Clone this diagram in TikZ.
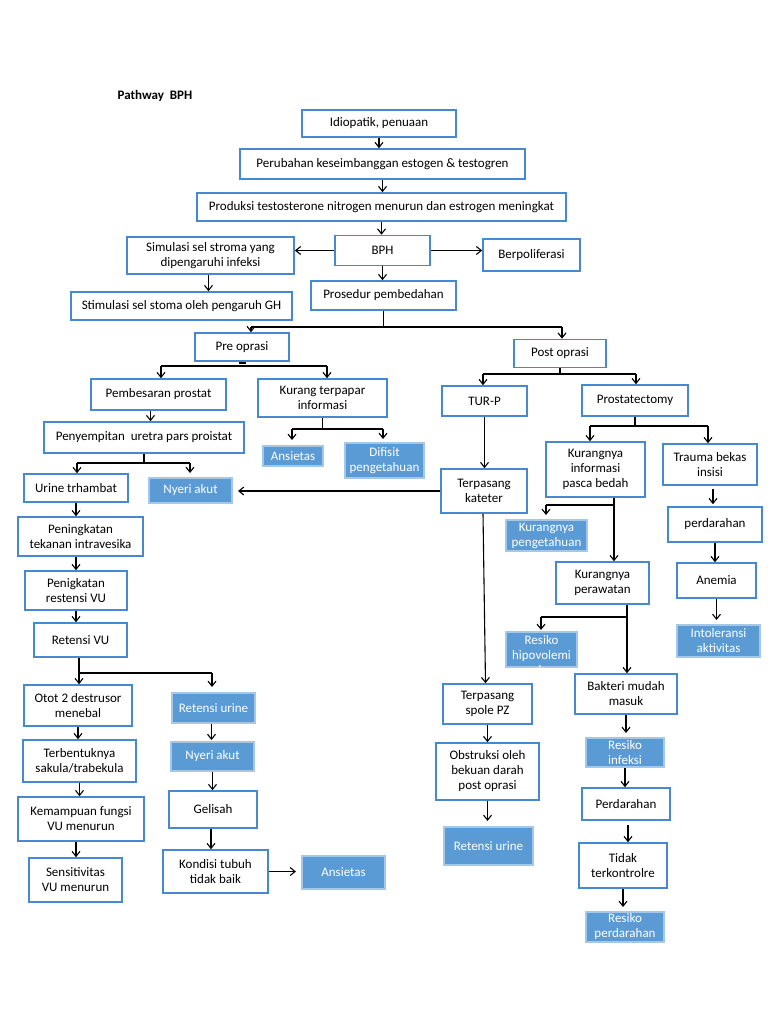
\documentclass[tikz,border=0pt]{standalone}
\usepackage{fontspec}
\setmainfont{Carlito}
\usetikzlibrary{arrows.meta}
\definecolor{boxblue}{RGB}{70,136,210}
\definecolor{dxblue}{RGB}{91,155,213}

\begin{document}
\begin{tikzpicture}[x=1pt,y=-1pt,
   >={Straight Barb[length=5pt,width=8pt]},
   every node/.style={font=\fontsize{13}{15}\selectfont},
   box/.style={draw=boxblue,line width=1.6pt,fill=white,align=center,inner sep=1pt},
   dx/.style={fill=dxblue,draw=dxblue!55,line width=2pt,text=white,align=center,inner sep=1pt},
   flow/.style={->,line width=1.1pt},
   link/.style={line width=1.1pt}]
   \useasboundingbox[fill=white] (0,0) rectangle (768,1024);
   % top chain
   \node (title) at (155,96) {\bfseries Pathway\ \ BPH};
   \node[box,minimum width=154,minimum height=27] (idio) at (379,123.5) {Idiopatik, penuaan};
   \node[box,minimum width=285,minimum height=30] (perub) at (382.5,164) {Perubahan keseimbanggan estogen \& testogren};
   \node[box,minimum width=369,minimum height=28] (prod) at (381.5,207) {Produksi testosterone nitrogen menurun dan estrogen meningkat};
   \node[box,minimum width=95,minimum height=30] (bph) at (382.5,250.5) {BPH};
   \node[box,minimum width=167,minimum height=37] (simul) at (210.5,255.5) {Simulasi sel stroma yang\\dipengaruhi infeksi};
   \node[box,minimum width=97,minimum height=32] (berp) at (531.5,255) {Berpoliferasi};
   \node[box,minimum width=221,minimum height=28] (stim) at (181.5,306) {Stimulasi sel stoma oleh pengaruh GH};
   \node[box,minimum width=145,minimum height=29] (pros) at (383.5,295.5) {Prosedur pembedahan};
   \node[box,minimum width=94,minimum height=28] (pre) at (242,347) {Pre oprasi};
   \node[box,minimum width=92,minimum height=28] (post) at (560,353.5) {Post oprasi};
   % pre oprasi side
   \node[box,minimum width=135,minimum height=31] (pemb) at (158.5,394.5) {Pembesaran prostat};
   \node[box,minimum width=129,minimum height=38] (kurang) at (322.5,398) {Kurang terpapar\\informasi};
   \node[box,minimum width=200,minimum height=31] (peny) at (144,437.5) {Penyempitan\ \ uretra pars proistat};
   \node[dx,minimum width=60,minimum height=20] (ansi1) at (293,456) {Ansietas};
   \node[dx,minimum width=79,minimum height=35] (difi) at (384.5,460.5) {Difisit\\pengetahuan};
   \node[box,minimum width=104,minimum height=28] (urine) at (76,488) {Urine trhambat};
   \node[dx,minimum width=83,minimum height=25] (nyeri1) at (190.5,490.5) {Nyeri akut};
   \node[box,minimum width=125,minimum height=39] (penin) at (80.5,536.5) {Peningkatan\\tekanan intravesika};
   \node[box,minimum width=102,minimum height=39] (penig) at (76,590.5) {Penigkatan\\restensi VU};
   \node[box,minimum width=93,minimum height=34] (retvu) at (80.5,640) {Retensi VU};
   \node[box,minimum width=108,minimum height=41] (otot) at (78,705.5) {Otot 2 destrusor\\menebal};
   \node[box,minimum width=113,minimum height=42] (terb) at (79.5,761) {Terbentuknya\\sakula/trabekula};
   \node[box,minimum width=126,minimum height=44] (kemam) at (81,819) {Kemampuan fungsi\\VU menurun};
   \node[box,minimum width=93,minimum height=44] (sens) at (75.5,880) {Sensitivitas\\VU menurun};
   \node[dx,minimum width=83,minimum height=30] (retur1) at (213.5,708) {Retensi urine};
   \node[dx,minimum width=83,minimum height=29] (nyeri2) at (212.5,756.5) {Nyeri akut};
   \node[box,minimum width=88,minimum height=37] (gelis) at (213,809.5) {Gelisah};
   \node[box,minimum width=105,minimum height=43] (kondi) at (215.5,871.5) {Kondisi tubuh\\tidak baik};
   \node[dx,minimum width=83,minimum height=33] (ansi2) at (343.5,872.5) {Ansietas};
   % post oprasi side
   \node[box,minimum width=85,minimum height=30] (turp) at (484.5,401) {TUR-P};
   \node[box,minimum width=106,minimum height=31] (prost) at (635,400.5) {Prostatectomy};
   \node[box,minimum width=86,minimum height=44] (kate) at (484,491) {Terpasang\\kateter};
   \node[box,minimum width=99,minimum height=55] (kinf) at (595.5,469.5) {Kurangnya\\informasi\\pasca bedah};
   \node[box,minimum width=94,minimum height=41] (traum) at (710,464.5) {Trauma bekas\\insisi};
   \node[dx,minimum width=81,minimum height=31] (kpeng) at (546.5,535.5) {Kurangnya\\pengetahuan};
   \node[box,minimum width=93,minimum height=42] (kpera) at (602.5,583) {Kurangnya\\perawatan};
   \node[box,minimum width=94,minimum height=35] (perd1) at (715,524.5) {perdarahan};
   \node[box,minimum width=79,minimum height=35] (anem) at (716.5,580.5) {Anemia};
   \node[dx,minimum width=83,minimum height=32] (intol) at (718.5,641) {Intoleransi\\aktivitas};
   \node[dx,minimum width=71,minimum height=35] (hipo) at (541.5,649.5) {};
   \node[text=white,align=center,inner sep=0pt] (hipotext) at (541.5,655) {Resiko\\hipovolemi\\k};
   \node[box,minimum width=89,minimum height=40] (spole) at (487.5,704) {Terpasang\\spole PZ};
   \node[box,minimum width=103,minimum height=57] (obst) at (487.5,771.5) {Obstruksi oleh\\bekuan darah\\post oprasi};
   \node[dx,minimum width=89,minimum height=38] (retur2) at (488.5,846) {Retensi urine};
   \node[box,minimum width=102,minimum height=40] (bakt) at (626,694) {Bakteri mudah\\masuk};
   \node[dx,minimum width=78,minimum height=29] (rinf) at (625,752.5) {Resiko\\infeksi};
   \node[box,minimum width=88,minimum height=32] (perd2) at (626,804) {Perdarahan};
   \node[box,minimum width=88,minimum height=45] (tidak) at (623,865.5) {Tidak\\terkontrolre};
   \node[dx,minimum width=78,minimum height=30] (rperd) at (625,927) {Resiko\\perdarahan};
   % junctions
   \coordinate (jpre) at (251,327);
   \coordinate (jpost) at (562,327);
   \coordinate (jl) at (161,366);
   \coordinate (jr) at (327,366);
   \coordinate (ptl) at (483,374);
   \coordinate (ptr) at (636,374);
   \coordinate (pyl) at (77,463);
   \coordinate (pyr) at (190,463);
   \coordinate (kl) at (292,429);
   \coordinate (kr) at (383,429);
   \coordinate (rl) at (79,673);
   \coordinate (rr) at (212,673);
   \coordinate (xl) at (590,426);
   \coordinate (xr) at (708,426);
   \coordinate (il) at (546,505);
   \coordinate (ir) at (614,505);
   \coordinate (wl) at (541,617);
   \coordinate (wr) at (627,617);
   % connectors
   \draw[flow] (idio.south) -- (idio.south |- perub.north);
   \draw[flow] (perub.south) -- (perub.south |- prod.north);
   \draw[flow] (prod.south) -- (prod.south |- bph.north);
   \draw[flow] (bph.west) -- (bph.west -| simul.east);
   \draw[flow] (bph.east) -- (bph.east -| berp.west);
   \draw[flow] ([xshift=-2pt]simul.south) -- ([xshift=-2pt]simul.south |- stim.north);
   \draw[flow] (bph.south) -- (bph.south |- pros.north);
   \draw[link] (pros.south) -- (pros.south |- jpre);
   \draw[link] (jpre) -- (jpost);
   \draw[flow] (jpre) -- (jpre |- pre.north);
   \draw[flow] (jpost) -- (jpost |- post.north);
   \draw[link] (239,363) -- (246,363);
   \draw[link] (jl) -- (jr);
   \draw[flow] (jl) -- (jl |- pemb.north);
   \draw[flow] (jr) -- (jr |- kurang.north);
   \draw[flow] ([xshift=-8pt]pemb.south) -- ([xshift=-8pt]pemb.south |- peny.north);
   \draw[link] (peny.south) -- (peny.south |- pyl);
   \draw[link] (pyl) -- (pyr);
   \draw[flow] (pyl) -- (pyl |- urine.north);
   \draw[flow,shorten >=4pt] (pyr) -- (pyr |- nyeri1.north);
   \draw[link] (kurang.south) -- (kurang.south |- kl);
   \draw[link] (kl) -- (kr);
   \draw[flow,shorten >=5pt] (kl) -- (kl |- ansi1.north);
   \draw[flow,shorten >=3pt] (kr) -- (kr |- difi.north);
   \draw[flow] (urine.south) -- (urine.south |- penin.north);
   \draw[flow] (penin.south -| urine.south) -- (urine.south |- penig.north);
   \draw[flow] (penig.south) -- (penig.south |- retvu.north);
   \draw[link] (rl |- retvu.south) -- (rl);
   \draw[link] (rl) -- (rr);
   \draw[flow] (rl) -- (rl |- otot.north);
   \draw[flow,shorten >=5pt] (rr) -- (rr |- retur1.north);
   \draw[flow] (otot.south) -- (otot.south |- terb.north);
   \draw[flow] (terb.south) -- (terb.south |- kemam.north);
   \draw[flow] ([xshift=-5pt]kemam.south) -- ([xshift=-5pt]kemam.south |- sens.north);
   \draw[flow,shorten >=1pt] ([xshift=-2pt]retur1.south) -- ([xshift=-2pt]retur1.south |- nyeri2.north);
   \draw[flow] (nyeri2.south) -- (nyeri2.south |- gelis.north);
   \draw[flow] ([xshift=-2pt]gelis.south) -- ([xshift=-2pt]gelis.south |- kondi.north);
   \draw[flow,shorten >=5pt] (kondi.east) -- (kondi.east -| ansi2.west);
   \draw[link] (post.south) -- (post.south |- ptl);
   \draw[link] (ptl) -- (ptr);
   \draw[flow] (ptl) -- (ptl |- turp.north);
   \draw[flow] (ptr) -- (ptr |- prost.north);
   \draw[flow] (turp.south) -- (turp.south |- kate.north);
   \draw[flow,shorten >=5pt] (kate.west) -- (kate.west -| nyeri1.east);
   \draw[flow] ([xshift=-1pt]kate.south) -- ([xshift=-2pt]spole.north);
   \draw[flow] (spole.south) -- (spole.south |- obst.north);
   \draw[flow,shorten >=5pt] (obst.south) -- (obst.south |- retur2.north);
   \draw[link] (prost.south) -- (prost.south |- xl);
   \draw[link] (xl) -- (xr);
   \draw[flow] (xl) -- (xl |- kinf.north);
   \draw[flow] (xr) -- (xr |- traum.north);
   \draw[flow] (ir |- kinf.south) -- (ir |- kpera.north);
   \draw[link] (ir) -- (il);
   \draw[flow,shorten >=4pt] (il) -- (il |- kpeng.north);
   \draw[flow] (wr |- kpera.south) -- (wr |- bakt.north);
   \draw[link] (wr) -- (wl);
   \draw[flow,shorten >=1pt] (wl) -- (wl |- hipo.north);
   \draw[flow,shorten <=3pt,shorten >=2pt] ([xshift=3pt]traum.south) -- ([xshift=3pt]traum.south |- perd1.north);
   \draw[flow] (perd1.south) -- (perd1.south |- anem.north);
   \draw[flow,shorten >=4pt] (anem.south) -- (anem.south |- intol.north);
   \draw[flow,shorten >=4pt] (bakt.south) -- (bakt.south |- rinf.north);
   \draw[flow] (rinf.south) -- (rinf.south |- perd2.north);
   \draw[flow,shorten <=4pt] ([xshift=2pt]perd2.south) -- ([xshift=2pt]perd2.south |- tidak.north);
   \draw[flow,shorten >=4pt] (tidak.south) -- (tidak.south |- rperd.north);
\end{tikzpicture}
\end{document}
